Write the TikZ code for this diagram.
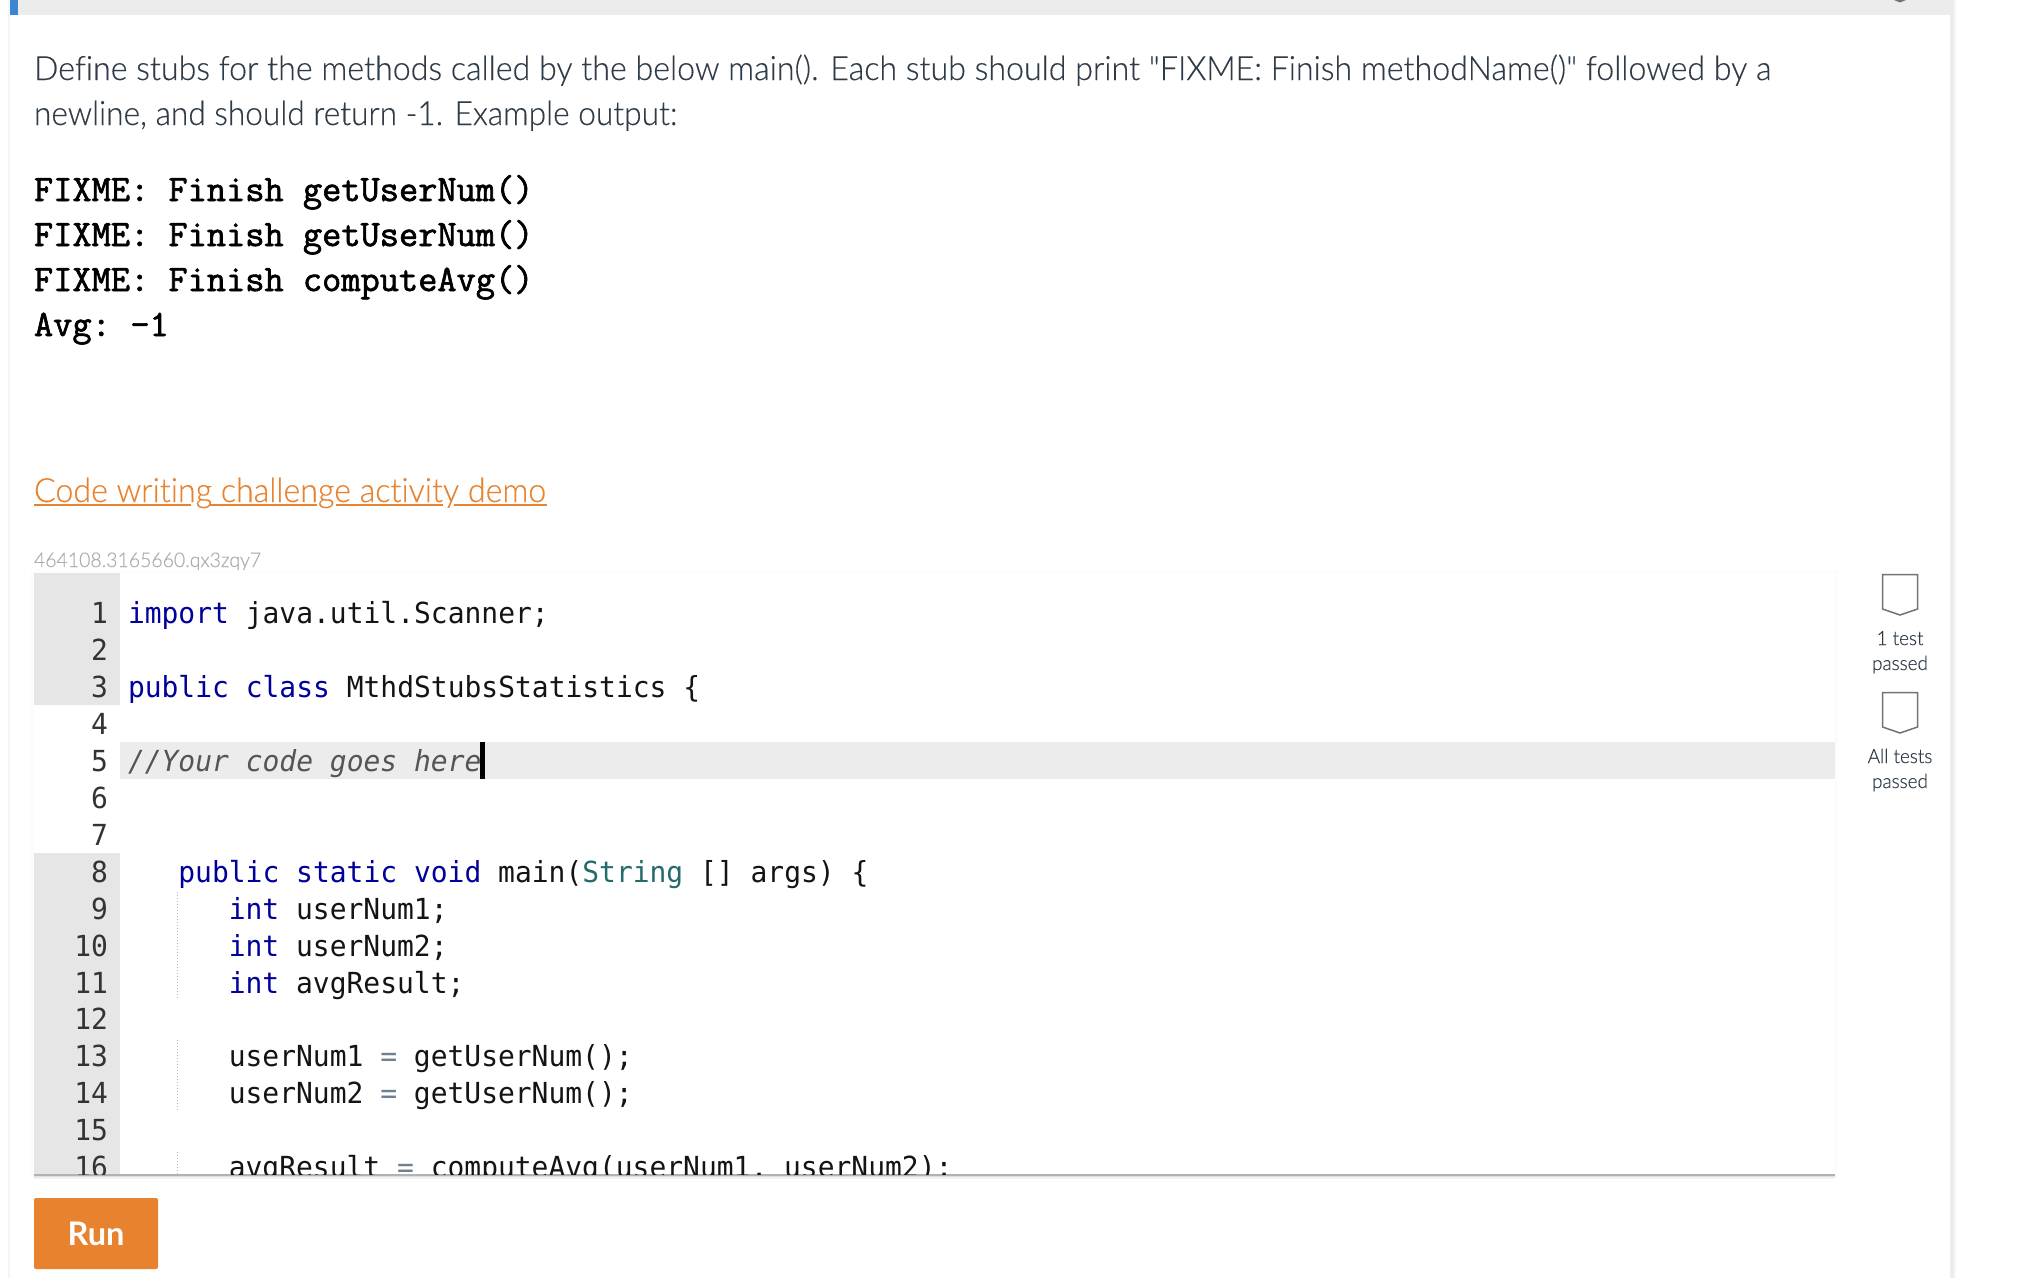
\documentclass[tikz,border=0pt]{standalone}
\usepackage{fontspec}
\newfontfamily\bodyf{Lato}[UprightFont=* Light,FakeStretch=0.963,FakeBold=0.3,Ligatures=NoCommon]
\newfontfamily\runf{Lato}[UprightFont=* Bold]
\newfontfamily\codef{DejaVu Sans Mono}[FakeStretch=0.964]
\newfontfamily\outf{Latin Modern Mono}[FakeBold=1.8]
\definecolor{bodytxt}{HTML}{2F3C48}
\definecolor{band}{HTML}{ECECEC}
\definecolor{gutter}{HTML}{E6E6E6}
\definecolor{kw}{HTML}{00009A}
\definecolor{teal}{HTML}{256B6B}
\definecolor{orangeL}{HTML}{E8822F}
\definecolor{eqc}{HTML}{708090}
\definecolor{cmt}{HTML}{555555}
\definecolor{corner}{HTML}{3D85D0}
\newcommand{\kw}[1]{\textcolor{kw}{#1}}
\newcommand{\ind}[1]{\hspace*{\dimexpr #1\dimexpr 16.8pt\relax\relax}}
\newcommand{\eqs}{\textcolor{eqc}{=}}
\tikzset{
  txt/.style={inner sep=0pt,outer sep=0pt,anchor=base west},
  bodytext/.style={txt,text=bodytxt,font=\bodyf\fontsize{33.4}{33.4}\selectfont},
  outtext/.style={txt,text=black,font=\outf\fontsize{37.3}{37.3}\selectfont},
  code/.style={txt,text=black!92,font=\codef\fontsize{29}{29}\selectfont},
  lineno/.style={inner sep=0pt,outer sep=0pt,anchor=base east,text=black!80,font=\codef\fontsize{29}{29}\selectfont},
  badge/.style={draw=black!55,line width=1.5pt,fill=white,line join=miter},
  small/.style={inner sep=0pt,outer sep=0pt,anchor=base,text=bodytxt,font=\bodyf\fontsize{19.6}{19.6}\selectfont},
}
\begin{document}
\begin{tikzpicture}[x=1pt,y=-1pt]
\useasboundingbox (0,0) rectangle (2044,1278);
\fill[white] (0,0) rectangle (2044,1278);
% page panel
\fill[black!4] (8,0) rectangle (10,1278);
\fill[band] (1950,0) rectangle (1954,1278);
\fill[black!3] (1954,0) rectangle (1956,1278);
\fill[band] (10,0) rectangle (1950,15);
\fill[corner] (10,0) rectangle (18,15);
\fill[black!55] (1894,0) -- (1906,0) -- (1900,2.5) -- cycle;
% statement
\node[bodytext] (l1) at (34,80) {Define stubs for the methods called by the below main(). Each stub should print "FIXME: Finish methodName()" followed by a};
\node[bodytext] (l2) at (34,125) {\addfontfeature{FakeStretch=0.948}newline, and should return -1. Example output:};
\node[outtext] (o1) at (34,201) {FIXME: Finish getUserNum()};
\node[outtext] (o2) at (34,246) {FIXME: Finish getUserNum()};
\node[outtext] (o3) at (34,291) {FIXME: Finish computeAvg()};
\node[outtext] (o4) at (34,336) {Avg: \kern-6pt-1};
\node[bodytext,text=orangeL] (link) at (34,502) {Code writing challenge activity demo};
\draw[orangeL,line width=2.4pt] (34,505) -- (191,505) (210,505) -- (317,505) (336,505) -- (443,505) (454,505) -- (547,505);
\node[bodytext,text=black!32,font=\bodyf\fontsize{20.2}{20.2}\selectfont] (idt) at (34,567) {464108.3165660.qx3zqy7};
% editor shadow
\fill[black!1] (31,570) rectangle (1838,1178);
\fill[black!30] (34,1174) rectangle (1835,1175.5);
\fill[black!12] (34,1175.5) rectangle (1835,1177);
\fill[black!5] (34,1177) rectangle (1835,1179);
\fill[white] (34,573) rectangle (1835,1174);
\fill[gutter] (34,573) rectangle (120,705);
\fill[gutter] (34,853) rectangle (120,1174);
\fill[band] (120,742) rectangle (1835,779);
\begin{scope}
\clip (34,573) rectangle (1835,1174);
\foreach \n in {1,...,16}{
  \node[lineno] (n\n) at (108,{623.5+36.95*(\n-1)}) {\n};
}
\draw[black!28,dotted,line width=1pt] (177,892) -- (177,1000) (177,1040) -- (177,1111) (177,1152) -- (177,1174);
\node[code] (c1) at (128,623.5) {\kw{import} java.util.Scanner;};
\node[code] (c3) at (128,697.4) {\kw{public class} MthdStubsStatistics \{};
\node[code,text=cmt,font=\codef\itshape\fontsize{29}{29}\selectfont] (c5) at (128,771.3) {//Your code goes here};
\node[code] (c8) at (128,882.15) {\ind{3}\kw{public static void} main(\textcolor{teal}{String} [] args) \{};
\node[code] (c9) at (128,919.1) {\ind{6}\kw{int} userNum1;};
\node[code] (c10) at (128,956.05) {\ind{6}\kw{int} userNum2;};
\node[code] (c11) at (128,993) {\ind{6}\kw{int} avgResult;};
\node[code] (c13) at (128,1066.9) {\ind{6}userNum1 \eqs{} getUserNum();};
\node[code] (c14) at (128,1103.85) {\ind{6}userNum2 \eqs{} getUserNum();};
\node[code] (c16) at (128,1177.75) {\ind{6}avgResult \eqs{} computeAvg(userNum1, userNum2);};
\fill[black] (480,742) rectangle (484.5,779);
\end{scope}
% badges
\draw[badge] (1882.5,574.5) -- (1917.5,574.5) -- (1917.5,609) -- (1900,615) -- (1882.5,609) -- cycle;
\node[small] (b1a) at (1900,645) {1 test};
\node[small] (b1b) at (1900,670) {passed};
\draw[badge] (1882.5,692.5) -- (1917.5,692.5) -- (1917.5,727) -- (1900,733) -- (1882.5,727) -- cycle;
\node[small] (b2a) at (1900,763) {All tests};
\node[small] (b2b) at (1900,788) {passed};
% run
\node[rounded corners=2pt,fill=orangeL,minimum width=124pt,minimum height=71pt,inner sep=0pt,text=white,font=\runf\fontsize{32.5}{32.5}\selectfont] (run) at (96,1233.5) {Run};
\end{tikzpicture}
\end{document}
